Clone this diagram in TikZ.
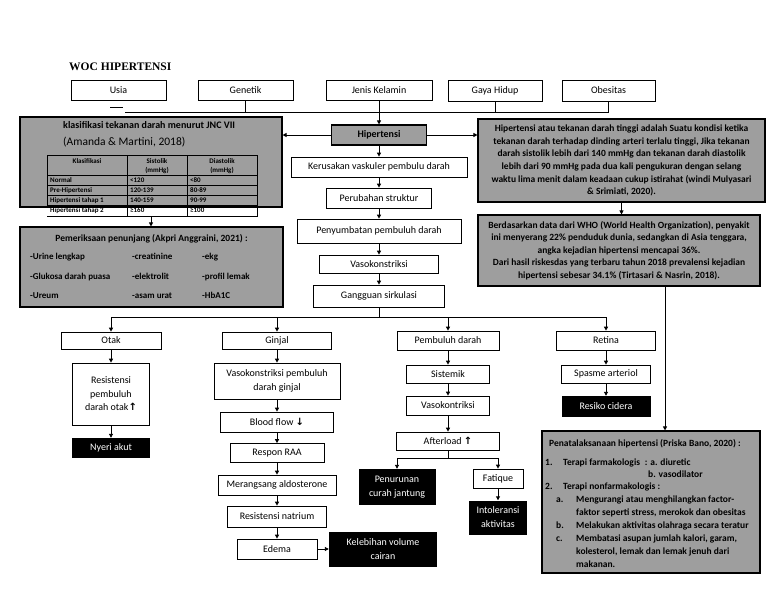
\documentclass[tikz,border=0pt]{standalone}
\usepackage{fontspec}
\setmainfont{Carlito}
\newfontfamily\judul{Liberation Serif}
\newfontfamily\simbol{DejaVu Sans}
\usetikzlibrary{arrows.meta}
\definecolor{abu}{RGB}{158,158,158}
\tikzset{
  kotak/.style={draw, line width=0.7pt, fill=white, inner sep=1pt, align=center, font=\fontsize{10}{13.5}\selectfont},
  kotakabu/.style={draw, line width=1.1pt, fill=abu, inner sep=1pt, align=center, font=\bfseries\fontsize{9.5}{12.6}\selectfont},
  kotakhitam/.style={fill=black, text=white, inner sep=1pt, align=center, font=\fontsize{10}{14}\selectfont},
  panah/.style={-{Triangle[length=4pt,width=4pt]}, line width=0.9pt},
  garis/.style={line width=0.9pt},
  teks/.style={inner sep=0pt, anchor=base west, font=\bfseries\fontsize{9.5}{11}\selectfont},
  tabel/.style={inner sep=0pt, anchor=base west, font=\bfseries\fontsize{7}{8}\selectfont},
}
\newcommand{\naik}{{\simbol\bfseries ↑}}
\newcommand{\turun}{{\simbol\bfseries ↓}}
\begin{document}
\begin{tikzpicture}[x=1pt,y=-1pt]
\useasboundingbox (0,0) rectangle (768,594);
\node[anchor=west, inner sep=0pt, font=\judul\bfseries\fontsize{11.5}{13}\selectfont] (judul) at (69,67) {WOC HIPERTENSI};

% faktor penyebab
\node[kotak, minimum width=95pt, minimum height=20pt] (usia) at (118.5,90) {Usia};
\node[kotak, minimum width=95pt, minimum height=20pt] (genetik) at (245.5,90) {Genetik};
\node[kotak, minimum width=106pt, minimum height=20pt] (jenis) at (379,90) {Jenis Kelamin};
\node[kotak, minimum width=94pt, minimum height=21pt] (gaya) at (495,90.5) {Gaya Hidup};
\node[kotak, minimum width=93pt, minimum height=21pt] (obesitas) at (608.5,90.5) {Obesitas};
\coordinate (bus) at (125,112);
\draw[garis] (110,107) -- (123,107);
\draw[garis] (bus) -| (obesitas.south);
\draw[garis] (genetik.south) -- (genetik.south |- bus);
\draw[garis] (gaya.south) -- (gaya.south |- bus);

% alur tengah
\node[kotakabu, minimum width=95pt, minimum height=20pt, font=\bfseries\fontsize{10}{12}\selectfont] (hipertensi) at (379,135) {Hipertensi};
\node[kotak, minimum width=176pt, minimum height=20pt] (kerusakan) at (379,167) {Kerusakan vaskuler pembulu darah};
\node[kotak, minimum width=105pt, minimum height=20pt] (perubahan) at (379,198) {Perubahan struktur};
\node[kotak, minimum width=164pt, minimum height=24pt] (penyumbatan) at (379,231) {Penyumbatan pembuluh darah};
\node[kotak, minimum width=119pt, minimum height=18pt] (vasokonstriksi) at (379,264) {Vasokonstriksi};
\node[kotak, minimum width=131pt, minimum height=22pt] (gangguan) at (379,296) {Gangguan sirkulasi};
\draw[panah] (jenis.south) -- (hipertensi.north);
\foreach \a/\b in {hipertensi/kerusakan, kerusakan/perubahan, perubahan/penyumbatan,
  penyumbatan/vasokonstriksi, vasokonstriksi/gangguan}
  \draw[panah] (\a.south) -- (\b.north);

% klasifikasi JNC VII
\node[kotakabu, minimum width=262pt, minimum height=90pt] (klasifikasi) at (151,162) {};
\node[teks, font=\bfseries\fontsize{10}{12}\selectfont] (jnc) at (63,128.5) {klasifikasi tekanan darah menurut JNC VII};
\node[teks, font=\fontsize{11.5}{13}\selectfont] (sumberjnc) at (63,145) {(Amanda \& Martini, 2018)};
\draw[line width=0.8pt, fill=abu] (47,155) rectangle (257,216);
\fill[white] (47.4,207.6) rectangle (256.6,215.6);
\draw[line width=0.8pt] (127,155) -- (127,216) (187,155) -- (187,216);
\foreach \y in {175,185,195,205}
  \draw[line width=0.8pt] (47,\y) -- (257,\y);
\node[tabel, anchor=base] at (87,163) {Klasifikasi};
\node[tabel, anchor=base] at (157,163) {Sistolik};
\node[tabel, anchor=base] at (157,172.5) {(mmHg)};
\node[tabel, anchor=base] at (222,163) {Diastolik};
\node[tabel, anchor=base] at (222,172.5) {(mmHg)};
\foreach \k/\s/\d [count=\i] in {Normal/{<120}/{<80}, Pre-Hipertensi/120-139/80-89,
  Hipertensi tahap 1/140-159/90-99, Hipertensi tahap 2/{≥160}/{≥100}} {
  \node[tabel] at (50,172.5+10*\i) {\k};
  \node[tabel] at (130,172.5+10*\i) {\s};
  \node[tabel] at (190,172.5+10*\i) {\d};
}
\draw[line width=1.1pt] (20,207) -- (282,207);
\coordinate (tabelbawah) at (151,216);

% pemeriksaan penunjang
\node[kotakabu, minimum width=263pt, minimum height=80pt] (pemeriksaan) at (151.5,267) {};
\node[teks, anchor=base] at (151.5,241) {Pemeriksaan penunjang (Akpri Anggraini, 2021) :};
\foreach \p/\q/\r [count=\i] in {-Urine lengkap/-creatinine/-ekg, -Glukosa darah puasa/-elektrolit/-profil lemak,
  -Ureum/-asam urat/-HbA1C} {
  \node[teks, font=\bfseries\fontsize{9}{11}\selectfont] at (30,240+19.5*\i) {\p};
  \node[teks, font=\bfseries\fontsize{9}{11}\selectfont] at (132,240+19.5*\i) {\q};
  \node[teks, font=\bfseries\fontsize{9}{11}\selectfont] at (202,240+19.5*\i) {\r};
}
\draw[panah] (tabelbawah) -- (tabelbawah |- pemeriksaan.north);
\draw[panah] (hipertensi.west) -- (hipertensi.west -| klasifikasi.east);

% definisi dan prevalensi
\node[kotakabu, minimum width=287pt, minimum height=83pt] (definisi) at (621.5,160.5)
  {Hipertensi atau tekanan darah tinggi adalah Suatu kondisi ketika\\
   tekanan darah terhadap dinding arteri terlalu tinggi, Jika tekanan\\
   darah sistolik lebih dari 140 mmHg dan tekanan darah diastolik\\
   lebih dari 90 mmHg pada dua kali pengukuran dengan selang\\
   waktu lima menit dalam keadaan cukup istirahat (windi Mulyasari\\
   \& Srimiati, 2020).};
\node[kotakabu, minimum width=282pt, minimum height=71pt] (prevalensi) at (619,250.5)
  {Berdasarkan data dari WHO (World Health Organization), penyakit\\
   ini menyerang 22\% penduduk dunia, sedangkan di Asia tenggara,\\
   angka kejadian hipertensi mencapai 36\%.\\
   Dari hasil riskesdas yang terbaru tahun 2018 prevalensi kejadian\\
   hipertensi sebesar 34.1\% (Tirtasari \& Nasrin, 2018).};
\draw[panah] (hipertensi.east) -- (hipertensi.east -| definisi.west);
\draw[panah] (definisi.south) -- (definisi.south |- prevalensi.north);

% penatalaksanaan
\node[kotakabu, minimum width=218pt, minimum height=142pt] (penatalaksanaan) at (651,502) {};
\coordinate (jalur) at (665,0);
\draw[panah] (prevalensi.south -| jalur) -- (penatalaksanaan.north -| jalur);
\node[teks] at (549,446) {Penatalaksanaan hipertensi (Priska Bano, 2020) :};
\node[teks] at (545,465) {1.};
\node[teks] at (563,465) {Terapi farmakologis\enspace: a. diuretic};
\node[teks] at (648,477) {b. vasodilator};
\node[teks] at (545,489) {2.};
\node[teks] at (563,489) {Terapi nonfarmakologis :};
\node[teks] at (556,502) {a.};
\node[teks] at (576,502) {Mengurangi atau menghilangkan factor-};
\node[teks] at (576,515) {faktor seperti stress, merokok dan obesitas};
\node[teks] at (556,528) {b.};
\node[teks] at (576,528) {Melakukan aktivitas olahraga secara teratur};
\node[teks] at (556,541) {c.};
\node[teks] at (576,541) {Membatasi asupan jumlah kalori, garam,};
\node[teks] at (576,554) {kolesterol, lemak dan lemak jenuh dari};
\node[teks] at (576,567) {makanan.};

% organ target
\node[kotak, minimum width=100pt, minimum height=17pt] (otak) at (111,340.5) {Otak};
\node[kotak, minimum width=109pt, minimum height=17pt] (ginjal) at (277,340.5) {Ginjal};
\node[kotak, minimum width=102pt, minimum height=19pt] (pembuluh) at (448,340.5) {Pembuluh darah};
\node[kotak, minimum width=99pt, minimum height=19pt] (retina) at (606,340.5) {Retina};
\coordinate (cabang) at (379,317);
\draw[garis] (gangguan.south) -- (cabang);
\draw[garis] (otak.north |- cabang) -- (retina.north |- cabang);
\foreach \n in {otak,ginjal,pembuluh,retina}
  \draw[panah] (\n.north |- cabang) -- (\n.north);

% otak
\node[kotak, minimum width=77pt, minimum height=62pt] (resistensi) at (111,394) {Resistensi\\pembuluh\\darah otak\naik};
\node[kotakhitam, minimum width=78pt, minimum height=20pt] (nyeri) at (111,448) {Nyeri akut};

% ginjal
\node[kotak, minimum width=126pt, minimum height=36pt, font=\fontsize{10}{14}\selectfont] (vasoginjal) at (277,381) {Vasokonstriksi pembuluh\\darah ginjal};
\node[kotak, minimum width=113pt, minimum height=20pt] (bloodflow) at (277,422) {Blood flow \turun};
\node[kotak, minimum width=94pt, minimum height=19pt] (respon) at (277,453) {Respon RAA};
\node[kotak, minimum width=118pt, minimum height=20pt] (aldosteron) at (277,485) {Merangsang aldosterone};
\node[kotak, minimum width=99pt, minimum height=21pt] (natrium) at (277,516.5) {Resistensi natrium};
\node[kotak, minimum width=80pt, minimum height=20pt] (edema) at (277,549) {Edema};
\node[kotakhitam, minimum width=108pt, minimum height=35pt] (kelebihan) at (383,549) {Kelebihan volume\\cairan};
\draw[panah] (edema.east) -- (kelebihan.west);

% pembuluh darah
\node[kotak, minimum width=83pt, minimum height=18pt] (sistemik) at (448,374) {Sistemik};
\node[kotak, minimum width=83pt, minimum height=19pt] (vasokontriksi) at (448,405.5) {Vasokontriksi};
\node[kotak, minimum width=103pt, minimum height=18pt] (afterload) at (448,441) {Afterload \naik};
\node[kotakhitam, minimum width=77pt, minimum height=36pt] (penurunan) at (397,487) {Penurunan\\curah jantung};
\node[kotak, minimum width=50pt, minimum height=19pt] (fatique) at (498,478.5) {Fatique};
\node[kotakhitam, minimum width=58pt, minimum height=34pt] (intoleransi) at (498,517.5) {Intoleransi\\aktivitas};
\coordinate (pisah) at (448,458);
\draw[garis] (afterload.south) -- (pisah);
\draw[panah] (pisah) -| (penurunan.north);
\draw[panah] (pisah) -| (fatique.north);

% retina
\node[kotak, minimum width=89pt, minimum height=18pt] (spasme) at (606,374) {Spasme arteriol};
\node[kotakhitam, minimum width=89pt, minimum height=21pt] (resiko) at (606,406.5) {Resiko cidera};

\foreach \a/\b in {otak/resistensi, resistensi/nyeri, ginjal/vasoginjal, vasoginjal/bloodflow,
  bloodflow/respon, respon/aldosteron, aldosteron/natrium, natrium/edema,
  pembuluh/sistemik, sistemik/vasokontriksi, vasokontriksi/afterload,
  fatique/intoleransi, retina/spasme, spasme/resiko}
  \draw[panah] (\a.south) -- (\b.north);
\end{tikzpicture}
\end{document}
